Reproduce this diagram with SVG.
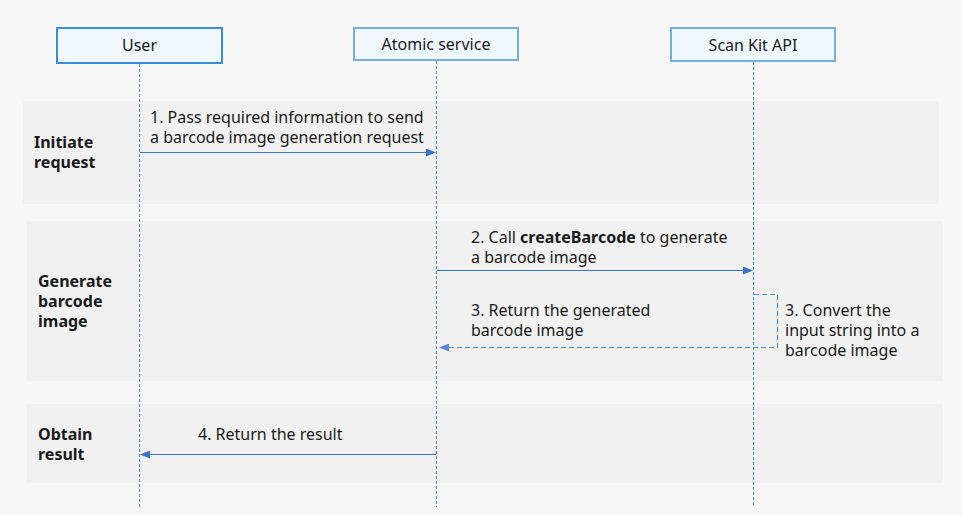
<svg xmlns="http://www.w3.org/2000/svg" width="962" height="515" viewBox="0 0 962 515">
<defs>
<style>
.band{fill:#f1f1f1}
.actor{fill:#f0f8ff;stroke:#74b0e4;stroke-width:2}
.life{stroke:#3d8ce0;stroke-width:1;stroke-dasharray:3,2;fill:none}
.msg{stroke:#3b73c6;stroke-width:1.2;fill:none}
.dmsg{stroke:#5a88d0;stroke-width:1.2;stroke-dasharray:5,3;fill:none}
text{font-family:"Noto Sans","Open Sans","Liberation Sans",sans-serif;font-size:16px;fill:#1a1a1a}
.phase{font-weight:bold}
.title{text-anchor:middle}
</style>
<marker id="ah" markerWidth="10" markerHeight="8" refX="9" refY="4" orient="auto" markerUnits="userSpaceOnUse">
<path d="M0,0 L10,4 L0,8 Z" fill="#3b73c6"/>
</marker>
<marker id="ahd" markerWidth="10" markerHeight="8" refX="9" refY="4" orient="auto" markerUnits="userSpaceOnUse">
<path d="M0,0 L10,4 L0,8 Z" fill="#5a88d0"/>
</marker>
</defs>
<rect width="962" height="515" fill="#f7f7f7"/>
<g id="phase-initiate">
<rect class="band" x="23" y="101" width="916" height="103"/>
<text class="phase" x="34" y="148">Initiate</text>
<text class="phase" x="34" y="168">request</text>
</g>
<g id="phase-generate">
<rect class="band" x="27" y="221" width="916" height="160"/>
<text class="phase" x="38" y="287">Generate</text>
<text class="phase" x="38" y="307">barcode</text>
<text class="phase" x="38" y="327">image</text>
</g>
<g id="phase-obtain">
<rect class="band" x="27" y="404" width="916" height="79"/>
<text class="phase" x="38" y="440">Obtain</text>
<text class="phase" x="38" y="460">result</text>
</g>
<g id="user">
<rect class="actor" x="57" y="28" width="165" height="35" style="stroke:#3a8ddb"/>
<text class="title" x="139.5" y="51">User</text>
</g>
<g id="atomic-service">
<rect class="actor" x="354" y="28" width="164" height="32"/>
<text class="title" x="436" y="50">Atomic service</text>
</g>
<g id="scan-kit-api">
<rect class="actor" x="671" y="28" width="164" height="33"/>
<text class="title" x="753" y="51">Scan Kit API</text>
</g>
<g id="connectors">
<line class="life" x1="139.5" y1="64" x2="139.5" y2="507"/>
<line class="life" x1="436.5" y1="61" x2="436.5" y2="507"/>
<line class="life" x1="753.5" y1="62" x2="753.5" y2="507"/>
<line class="msg" x1="140" y1="152.5" x2="435" y2="152.5" marker-end="url(#ah)"/>
<line class="msg" x1="437" y1="270.5" x2="752" y2="270.5" marker-end="url(#ah)"/>
<polyline class="dmsg" points="754,294.5 777.5,294.5 777.5,347.5 440,347.5" marker-end="url(#ahd)"/>
<line class="msg" x1="436" y1="454.5" x2="141" y2="454.5" marker-end="url(#ah)"/>
</g>
<g id="labels">
<text x="150" y="123">1. Pass required information to send</text>
<text x="150" y="143">a barcode image generation request</text>
<text x="471" y="243">2. Call <tspan font-weight="bold">createBarcode</tspan> to generate</text>
<text x="471" y="263">a barcode image</text>
<text x="471" y="316">3. Return the generated</text>
<text x="471" y="336">barcode image</text>
<text x="785" y="316">3. Convert the</text>
<text x="785" y="336">input string into a</text>
<text x="785" y="356">barcode image</text>
<text x="198" y="440">4. Return the result</text>
</g>
</svg>
